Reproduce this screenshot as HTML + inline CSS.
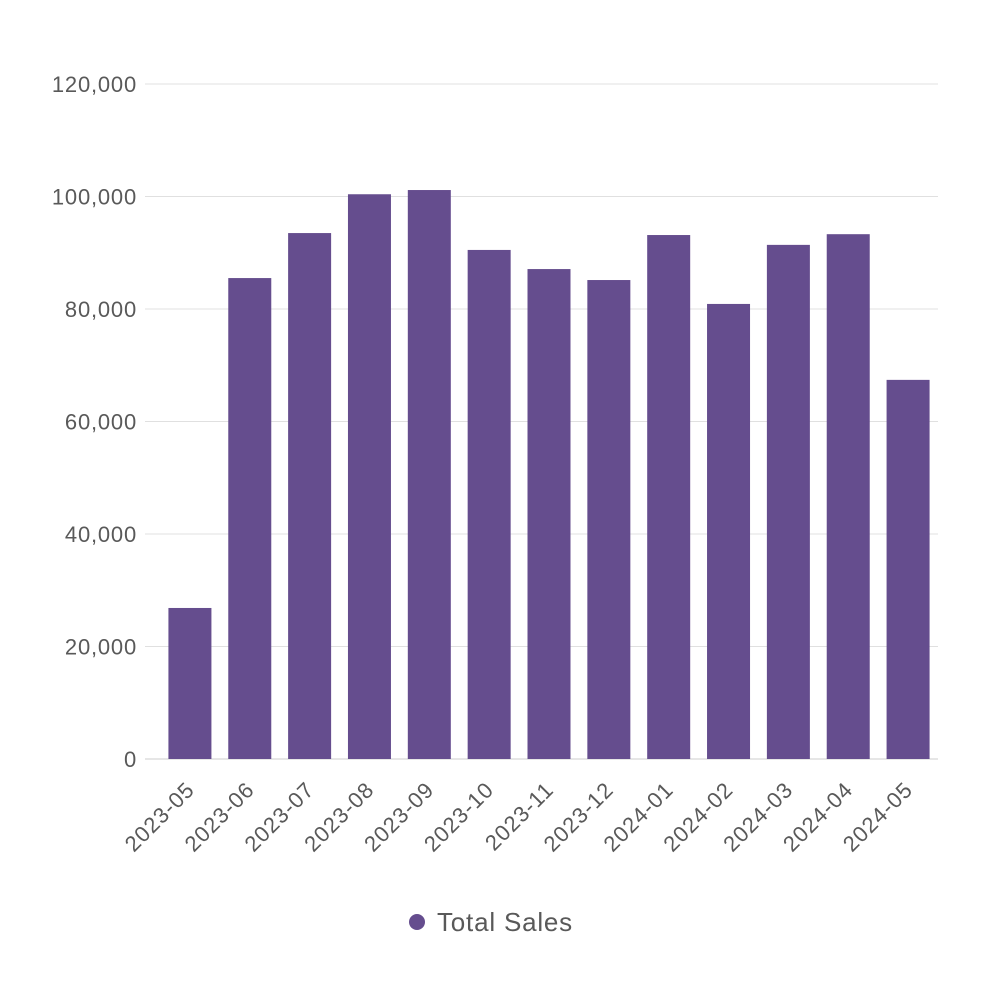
<!DOCTYPE html>
<html><head><meta charset="utf-8"><style>
body{margin:0;background:#fff;}
svg text{font-family:"Liberation Sans",sans-serif;fill:#595959;}
</style></head><body>
<svg id="chart" width="996" height="996" xmlns="http://www.w3.org/2000/svg">
<g id="grid"></g>
<g id="bars"></g>
<g id="yticks"></g>
<g id="xticks"></g>
<g>
<circle cx="417" cy="922" r="8" fill="#654d8e"></circle>
<text x="437" y="931" font-size="26" letter-spacing="0.8">Total Sales</text>
</g>
</svg>
<script>
const categories=["2023-05","2023-06","2023-07","2023-08","2023-09","2023-10","2023-11","2023-12","2024-01","2024-02","2024-03","2024-04","2024-05"];
const sales=[26850,85500,93500,100400,101150,90500,87100,85150,93150,80900,91400,93300,67400];
const yTicks=[0,20000,40000,60000,80000,100000,120000];
const ns="http://www.w3.org/2000/svg";
const x0=160,x1=938,y0=759,y1=84,yMax=120000;
const band=(x1-x0)/categories.length,bw=43;
function y(v){return y0-(v/yMax)*(y0-y1);}
function xc(i){return x0+band*(i+0.5);}
function mk(t,a,p){const e=document.createElementNS(ns,t);for(const k in a)e.setAttribute(k,a[k]);p.appendChild(e);return e;}
const g=document.getElementById('grid'),yt=document.getElementById('yticks'),xt=document.getElementById('xticks'),bg=document.getElementById('bars');
yTicks.forEach(v=>{
 const l=mk('line',{x1:145,x2:938,y1:y(v),y2:y(v),stroke:v===0?'#cccccc':'#e0e0e0','stroke-width':1},g);
 
 
 const t=mk('text',{x:137,y:y(v)+8,'text-anchor':'end','font-size':22,'letter-spacing':0.8},yt);
 t.textContent=v.toLocaleString('en-US');
 
 
});
categories.forEach((c,i)=>{
 const r=mk('rect',{x:xc(i)-bw/2,y:y(sales[i]),width:bw,height:y0-y(sales[i]),fill:'#654d8e'},bg);
 
 
 const t=mk('text',{x:0,y:0,'text-anchor':'end','font-size':22,'letter-spacing':1,transform:`translate(${xc(i)+6},${y0+32}) rotate(-45)`},xt);
 t.textContent=c;
 
 
});
</script>
</body></html>
